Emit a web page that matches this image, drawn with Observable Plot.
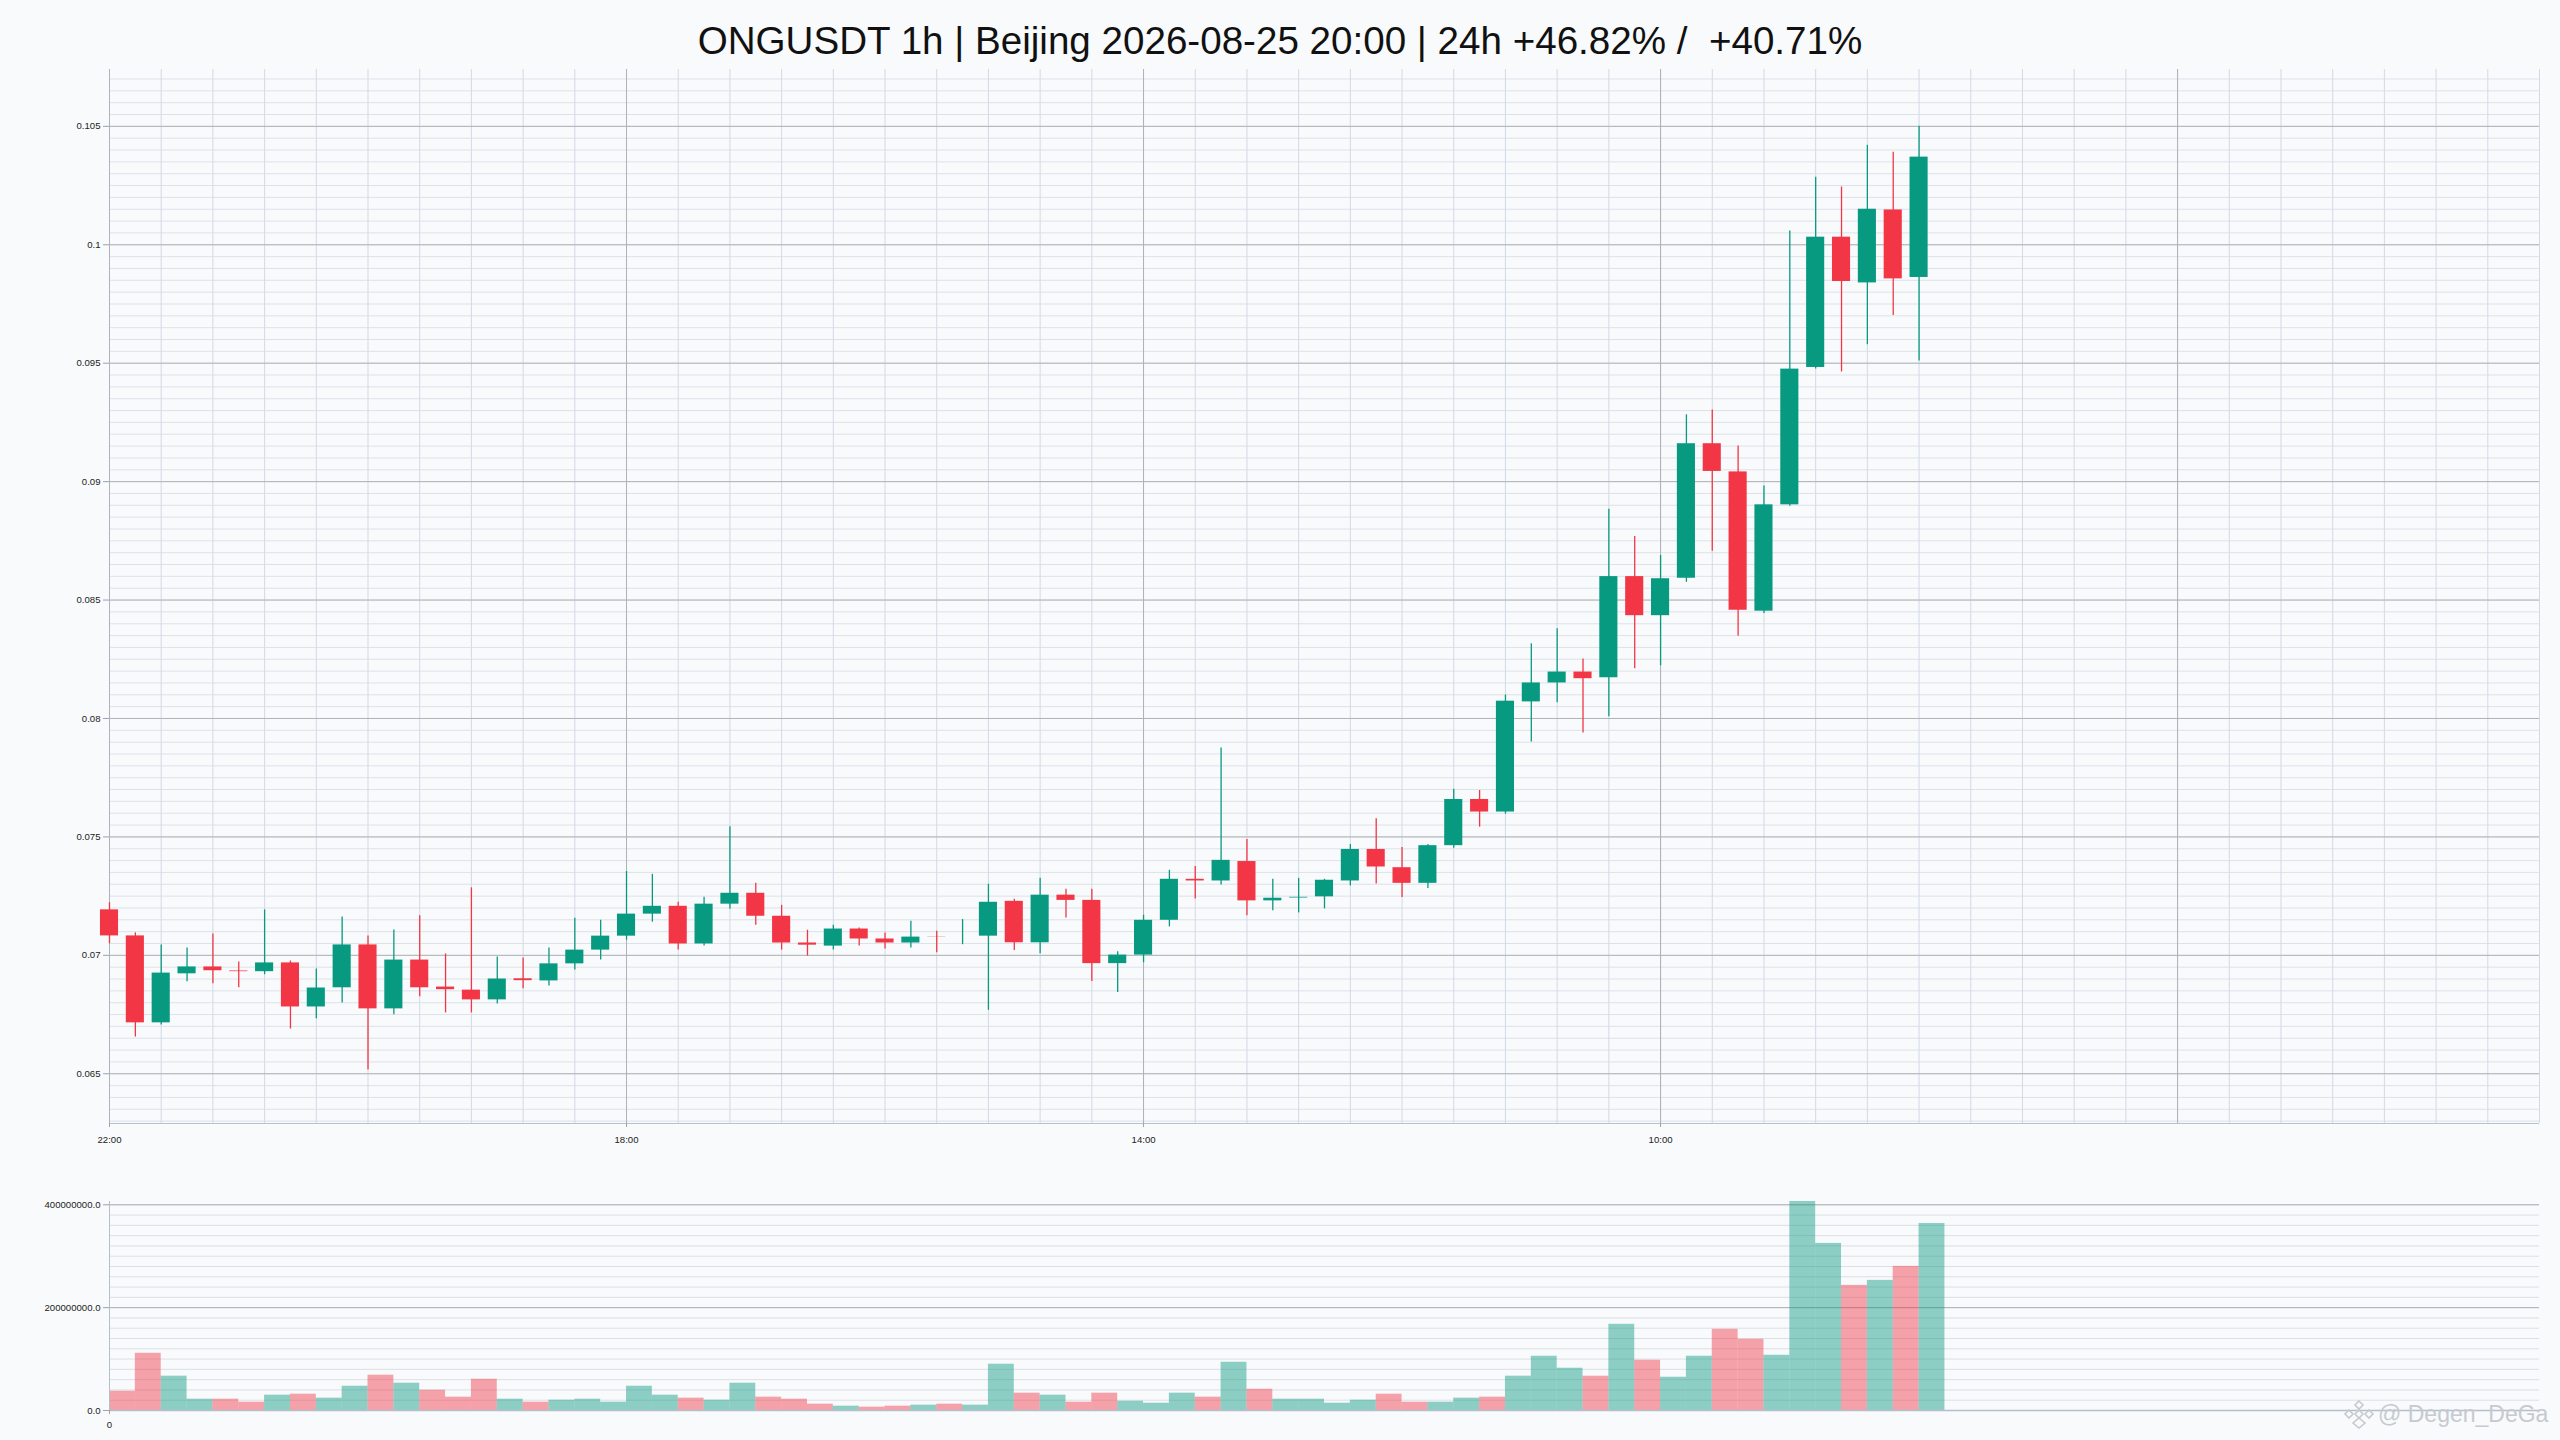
<!DOCTYPE html>
<html>
<head>
<meta charset="utf-8">
<script src="https://cdn.jsdelivr.net/npm/d3@7"></script>
<script src="https://cdn.jsdelivr.net/npm/@observablehq/plot@0.6"></script>
<style>
html, body { margin:0; padding:0; background:#f8fafc; width:2560px; height:1440px; overflow:hidden;
  font-family:"Liberation Sans", Arial, sans-serif; }
#title { height:37.6px; padding-top:22.4px; font-size:38.6px; line-height:38.5px; text-align:center; color:#111;
  white-space:pre; }
#price, #volume { display:block; line-height:0; }
#wm { position:absolute; left:2343px; top:1399px; height:30px; white-space:nowrap; color:#c6cad0;
  font-size:23px; line-height:30px; display:flex; align-items:center; gap:3px; }
</style>
</head>
<body>
<div id="title">ONGUSDT 1h | Beijing 2026-08-25 20:00 | 24h +46.82% /  +40.71%</div>
<div id="price"></div>
<div id="volume"></div>
<div id="wm"><svg width="32" height="30" viewBox="0 0 32 30"><g fill="none" stroke="#c6cad0" stroke-width="1.6">
<polygon points="16,2 20,6 16,10 12,6"/><polygon points="6,11 10,15 6,19 2,15"/><polygon points="26,11 30,15 26,19 22,15"/>
<polygon points="16,11 20,15 16,19 12,15"/><polygon points="16,19 22,24 16,29 10,24"/></g></svg><span>@ Degen_DeGa</span></div>
<script>
// ---- data (1h candles, first candle 2026-08-22 22:00 Beijing) ----
const openP = [0.07192,0.07082,0.06715,0.06922,0.06951,0.06934,0.06931,0.06968,0.06782,0.06863,
0.07044,0.06774,0.06980,0.06866,0.06853,0.06812,0.06901,0.06892,0.06964,0.07022,
0.07081,0.07174,0.07207,0.07048,0.07216,0.07262,0.07165,0.07052,0.07039,0.07111,
0.07069,0.07052,0.07077,0.07076,0.07081,0.07228,0.07053,0.07254,0.07232,0.06965,
0.07001,0.07148,0.07321,0.07314,0.07396,0.07230,0.07242,0.07247,0.07314,0.07447,
0.07370,0.07304,0.07463,0.07658,0.07605,0.08070,0.08150,0.08196,0.08172,0.08599,
0.08434,0.08592,0.09160,0.09041,0.08453,0.08902,0.09482,0.10032,0.09839,0.10147,
0.09862];
const highP = [0.07222,0.07095,0.07044,0.07031,0.07090,0.06972,0.07192,0.06976,0.06942,0.07162,
0.07082,0.07107,0.07167,0.07006,0.07285,0.06993,0.06989,0.07031,0.07157,0.07148,
0.07354,0.07342,0.07224,0.07245,0.07543,0.07304,0.07211,0.07106,0.07127,0.07115,
0.07094,0.07144,0.07102,0.07151,0.07300,0.07237,0.07325,0.07279,0.07279,0.07015,
0.07169,0.07359,0.07375,0.07875,0.07489,0.07321,0.07325,0.07321,0.07468,0.07577,
0.07455,0.07468,0.07701,0.07696,0.08099,0.08315,0.08379,0.08251,0.08883,0.08768,
0.08688,0.09282,0.09302,0.09150,0.08982,0.10058,0.10285,0.10244,0.10420,0.10391,
0.10500];
const lowP = [0.07049,0.06655,0.06706,0.06888,0.06880,0.06863,0.06918,0.06689,0.06732,0.06799,
0.06516,0.06749,0.06825,0.06757,0.06757,0.06795,0.06859,0.06871,0.06938,0.06980,
0.07064,0.07140,0.07022,0.07039,0.07195,0.07127,0.07022,0.06997,0.07022,0.07039,
0.07027,0.07031,0.07011,0.07045,0.06768,0.07020,0.07007,0.07158,0.06889,0.06843,
0.06969,0.07120,0.07238,0.07297,0.07167,0.07188,0.07179,0.07196,0.07293,0.07301,
0.07244,0.07282,0.07452,0.07541,0.07596,0.07901,0.08066,0.07939,0.08007,0.08210,
0.08223,0.08575,0.08706,0.08347,0.08443,0.08896,0.09475,0.09463,0.09578,0.09701,
0.09509];
const closeP = [0.07082,0.06715,0.06925,0.06951,0.06935,0.06931,0.06968,0.06782,0.06862,0.07044,
0.06774,0.06980,0.06863,0.06855,0.06812,0.06900,0.06893,0.06964,0.07022,0.07081,
0.07174,0.07207,0.07048,0.07216,0.07262,0.07165,0.07052,0.07043,0.07111,0.07069,
0.07052,0.07077,0.07076,0.07076,0.07224,0.07053,0.07254,0.07232,0.06965,0.07001,
0.07148,0.07321,0.07314,0.07401,0.07230,0.07241,0.07245,0.07317,0.07447,0.07373,
0.07304,0.07463,0.07658,0.07605,0.08073,0.08150,0.08196,0.08168,0.08599,0.08434,
0.08590,0.09160,0.09043,0.08457,0.08902,0.09475,0.10032,0.09845,0.10150,0.09856,
0.10370];
const volumeM = [37.5,111.3,66.7,22.0,22.0,16.2,29.8,31.7,24.0,47.2,
68.6,53.1,39.5,25.9,60.8,22.0,16.2,20.1,22.0,16.2,
47.2,29.8,24.0,20.1,53.1,25.9,22.0,12.3,8.4,6.5,
8.4,10.4,12.3,10.4,90.0,33.7,29.8,16.2,33.7,18.1,
14.2,33.7,25.9,93.8,41.4,22.0,22.0,14.2,20.1,31.7,
16.2,16.2,24.0,25.9,66.7,105.5,82.2,66.7,167.6,97.7,
64.7,105.5,157.9,138.5,107.4,406.4,324.9,243.3,253.0,280.2,
363.7];

// axis ticks
const xTickHours = [0, 20, 40, 60];
const xTickLabels = ["22:00", "18:00", "14:00", "10:00"];
const xMajorHours = [0, 20, 40, 60, 80];
const priceTicks = [0.065, 0.07, 0.075, 0.08, 0.085, 0.09, 0.095, 0.1, 0.105];
const priceTickLabels = ["0.065", "0.07", "0.075", "0.08", "0.085", "0.09", "0.095", "0.1", "0.105"];
const volTicks = [0, 200000000, 400000000];
const volTickLabels = ["0.0", "200000000.0", "400000000.0"];

const GREEN = "#089981", RED = "#f23645";
const candles = openP.map((o, i) => ({
  i, open: o, high: highP[i], low: lowP[i], close: closeP[i], vol: volumeM[i] * 1e6,
  color: closeP[i] >= o ? GREEN : RED
}));

const xDomain = [0, 94];
const minorHours = d3.range(0, 95, 2);
const minorPrice = d3.range(126, 215).map(k => k * 0.0005);
const minorVol = d3.range(0, 21).map(k => k * 20000000);
const fontStyle = {background: "transparent", fontFamily: "'Liberation Sans', Arial, sans-serif", fontSize: "9.6px", color: "#222"};

const price = Plot.plot({
  width: 2560, height: 1103,
  marginTop: 9, marginBottom: 40, marginLeft: 109, marginRight: 21,
  x: {type: "linear", domain: xDomain},
  y: {domain: [0.0629, 0.1074]},
  color: {type: "identity"},
  style: fontStyle,
  marks: [
    Plot.gridY(minorPrice, {stroke: "#dde2ea", strokeOpacity: 1}),
    Plot.gridX(minorHours, {stroke: "#d2dae5", strokeOpacity: 1}),
    Plot.gridY(priceTicks, {stroke: "#b0b2b6", strokeOpacity: 1}),
    Plot.gridX(xMajorHours, {stroke: "#aeb1b6", strokeOpacity: 1}),
    Plot.ruleX([0], {stroke: "#aab3bf"}),
    Plot.ruleY([0.0629], {stroke: "#b9c1cc", strokeWidth: 1.2}),
    Plot.axisY(priceTicks, {tickFormat: d => priceTickLabels[priceTicks.indexOf(d)], tickSize: 6, tickPadding: 3, stroke: "#9aa3ae", label: null}),
    Plot.axisX(xTickHours, {tickFormat: d => xTickLabels[xTickHours.indexOf(d)], tickSize: 4, tickPadding: 9, stroke: "#9aa3ae", label: null}),
    Plot.ruleX(candles, {x: "i", y1: "low", y2: "high", stroke: "color", strokeWidth: 1.3}),
    Plot.rect(candles, {x1: d => d.i - 0.35, x2: d => d.i + 0.35, y1: "open", y2: "close", fill: "color"})
  ]
});
document.getElementById("price").appendChild(price);

const volume = Plot.plot({
  width: 2560, height: 272,
  marginTop: 38, marginBottom: 25, marginLeft: 109, marginRight: 21,
  x: {type: "linear", domain: xDomain},
  y: {domain: [0, d3.max(candles, d => d.vol)]},
  color: {type: "identity"},
  style: fontStyle,
  marks: [
    Plot.gridY(minorVol, {stroke: "#dcdfe4", strokeOpacity: 1}),
    Plot.gridY(volTicks, {stroke: "#aeb0b4", strokeOpacity: 1}),
    Plot.rect(candles, {x1: "i", x2: d => d.i + 1, y1: 0, y2: "vol", fill: "color", fillOpacity: 0.45}),
    Plot.ruleX([0], {stroke: "#b5bfcc"}),
    Plot.ruleY([0], {stroke: "#b5bfcc", strokeWidth: 1.6}),
    Plot.axisY(volTicks, {tickFormat: d => volTickLabels[volTicks.indexOf(d)], tickSize: 6, tickPadding: 3, stroke: "#9aa3ae", label: null}),
    Plot.axisX([0], {tickFormat: d => "0", tickSize: 4, tickPadding: 7, stroke: "#9aa3ae", label: null})
  ]
});
document.getElementById("volume").appendChild(volume);
</script>
</body>
</html>
